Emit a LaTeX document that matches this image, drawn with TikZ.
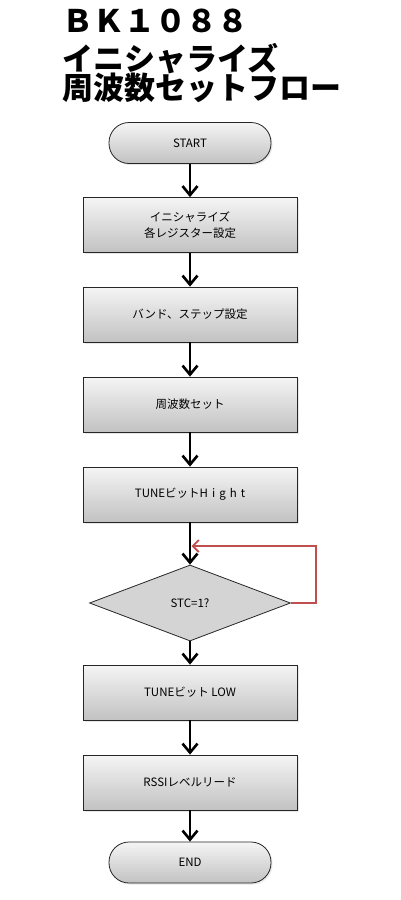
\documentclass[tikz,border=0pt]{standalone}
\usepackage{fontspec}
\setmainfont{Noto Sans CJK JP}
\usetikzlibrary{shapes.geometric,arrows.meta,shadows}

\definecolor{loopred}{HTML}{C0504D}

\tikzset{
  procbox/.style={draw=black!85, line width=0.8pt, top color=black!4, bottom color=black!24,
    drop shadow={opacity=0.18, shadow xshift=1.5pt, shadow yshift=-1.5pt},
    minimum width=214pt, minimum height=55pt, inner sep=0pt, align=center,
    font=\fontsize{11.5}{15.5}\selectfont},
  termbox/.style={procbox, rounded corners=20pt, minimum width=162pt, minimum height=41pt},
  testbox/.style={diamond, draw=black!85, line width=0.8pt, fill=black!17,
    minimum width=201pt, minimum height=76pt, inner sep=0pt,
    font=\fontsize{11.5}{15.5}\selectfont},
  titletext/.style={anchor=base west, inner sep=0pt, font=\fontsize{31}{31}\selectfont\bfseries},
  flowline/.style={line width=2.6pt, -{Straight Barb[length=9pt,width=15pt,line width=2.6pt]}},
  loopline/.style={flowline, draw=loopred, line width=1.9pt,
    -{Straight Barb[length=6pt,width=12pt,line width=1.9pt]}},
}

\begin{document}
\begin{tikzpicture}[x=1pt,y=-1pt]
  \useasboundingbox (0,0) rectangle (400,900);

  % Title lines
  \node [titletext] (title1) at (62,32) {ＢＫ１０８８};
  \node [titletext] (title2) at (62,70) {イニシャライズ};
  \node [titletext] (title3) at (62,99) {周波数セットフロー};

  % Marking the steps of the flow
  \node [termbox] (start) at (190,143) {START};
  \node [procbox] (init) at (190,225) {イニシャライズ\\各レジスター設定};
  \node [procbox] (band) at (190,314.5) {バンド、ステップ設定};
  \node [procbox] (freq) at (190,404.5) {周波数セット};
  \node [procbox] (tunehi) at (190,494.5) {TUNEビット{\addfontfeature{LetterSpace=35}Hight}};
  \node [testbox] (stc) at (190,603) {STC=1?};
  \node [procbox] (tunelo) at (190,692.5) {TUNEビット LOW};
  \node [procbox] (rssi) at (190,782.5) {RSSIレベルリード};
  \node [termbox] (end) at (190,862.5) {END};

  % Drawing the main connectors
  \draw [flowline] (start) -- (init);
  \draw [flowline] (init) -- (band);
  \draw [flowline] (band) -- (freq);
  \draw [flowline] (freq) -- (tunehi);
  \draw [flowline] (tunehi) -- (stc);
  \draw [flowline] (stc) -- (tunelo);
  \draw [flowline] (tunelo) -- (rssi);
  \draw [flowline] (rssi) -- (end);

  % Drawing the wait loop back from STC
  \coordinate (merge) at (191.5,546);
  \draw [loopline] (stc.east) -- (316,603) -- (316,546) -- (merge);
\end{tikzpicture}
\end{document}
